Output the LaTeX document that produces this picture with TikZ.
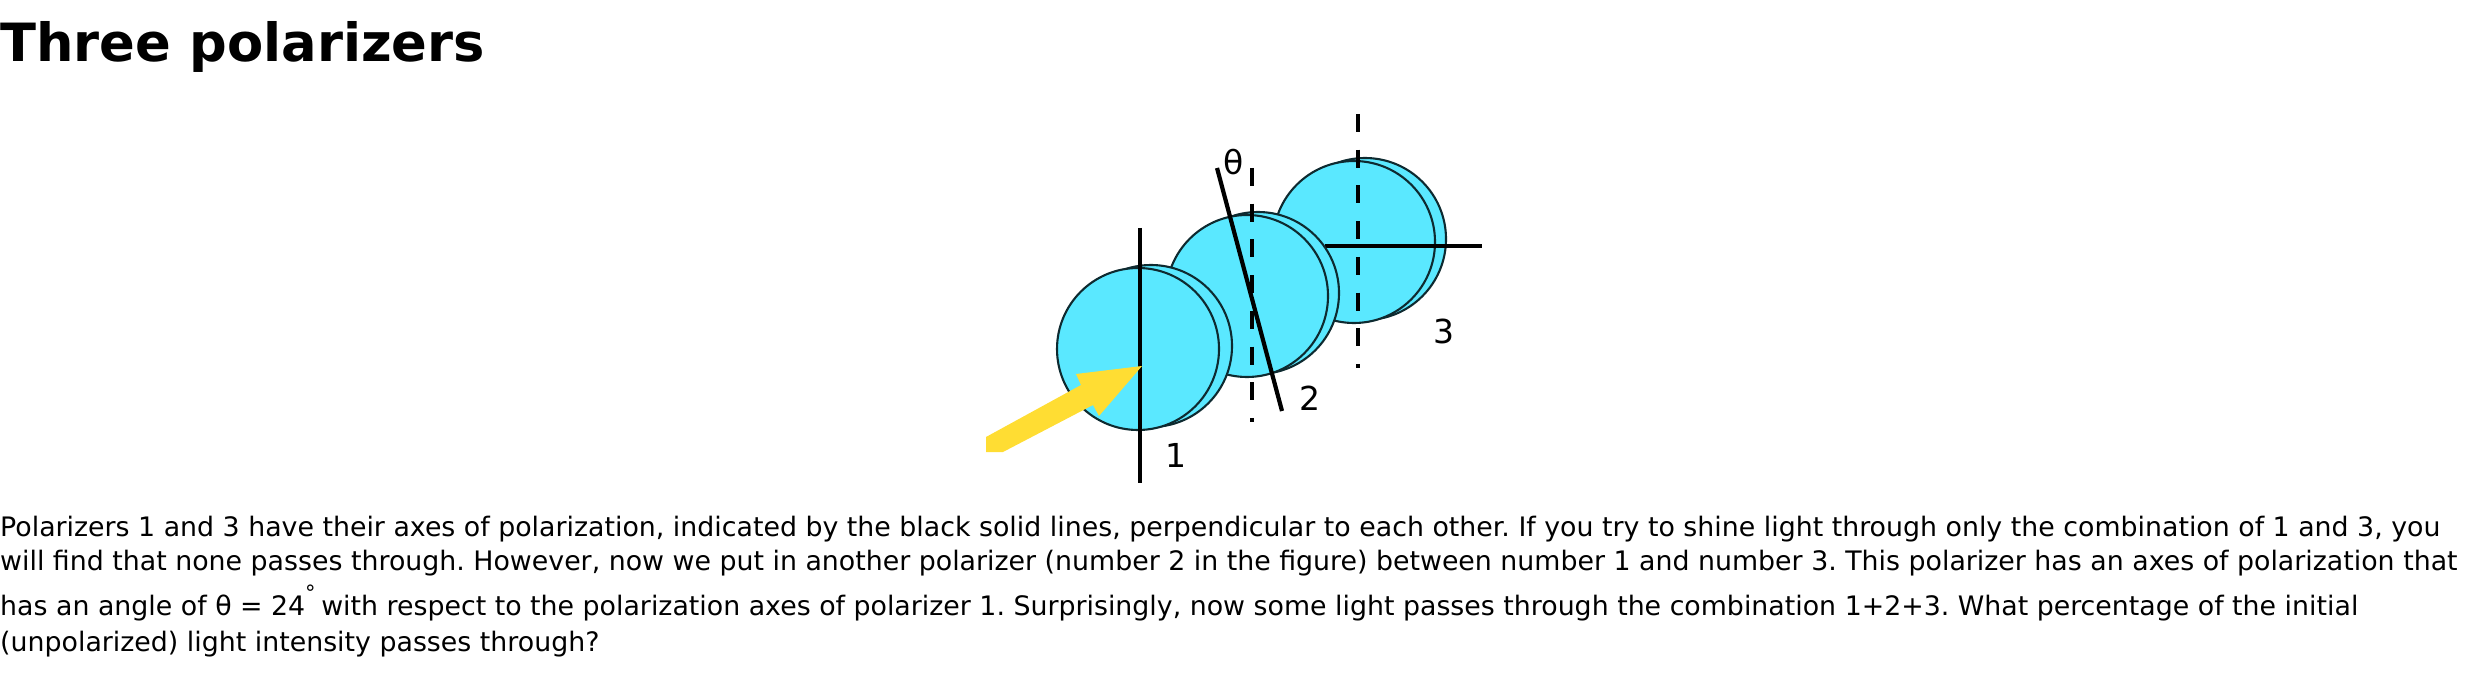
\documentclass[tikz,border=0pt]{standalone}
\usepackage{fontspec}
\setmainfont{DejaVu Sans}
\definecolor{discfill}{HTML}{5AE8FF}
\definecolor{discedge}{HTML}{0E2A30}
\definecolor{lightray}{HTML}{FFDD33}
\tikzset{
  disc/.style={circle,draw=discedge,fill=discfill,line width=2.1pt,inner sep=0pt,minimum size=162pt},
  axisline/.style={black,line width=3.6pt},
  dashaxis/.style={black,line width=3.6pt,dash pattern=on 18pt off 17.7pt},
  bodytext/.style={anchor=base west,inner sep=0pt,font=\fontsize{26.8pt}{30pt}\selectfont\frenchspacing},
  numlabel/.style={inner sep=0pt,font=\fontsize{33pt}{35pt}\selectfont}
}
\begin{document}
\begin{tikzpicture}[x=1pt,y=-1pt]
\useasboundingbox (0,0) rectangle (2472,676);
\node[anchor=base west,inner sep=0pt,font=\fontsize{52.7pt}{58pt}\selectfont\bfseries] (title) at (0,62) {Three polarizers};
% polarizer 3
\node[disc] (d3b) at (1365,239) {};
\node[disc] (d3f) at (1354,242) {};
\coordinate (h3a) at (1325,246); \coordinate (h3b) at (1482,246);
\draw[axisline] (h3a) -- (h3b);
\coordinate (v3a) at (1358,114); \coordinate (v3b) at (1358,368);
\draw[dashaxis] (v3a) -- (v3b);
% polarizer 2
\node[disc] (d2b) at (1258,293) {};
\node[disc] (d2f) at (1247,296) {};
\coordinate (v2a) at (1252,168); \coordinate (v2b) at (1252,422);
\draw[dashaxis] (v2a) -- (v2b);
\coordinate (t2a) at (1217,168); \coordinate (t2b) at (1282,411);
\draw[axisline,line width=4.2pt] (t2a) -- (t2b);
% polarizer 1
\node[disc] (d1b) at (1151,346) {};
\node[disc] (d1f) at (1138,349) {};
\coordinate (v1a) at (1140,228); \coordinate (v1b) at (1140,483);
\draw[axisline] (v1a) -- (v1b);
% light arrow
\fill[lightray] (986,437) -- (986,452) -- (1003,452) -- (1093,405) -- (1099,416) -- (1142,366) -- (1076,374) -- (1081,385) -- cycle;
% labels
\node[numlabel] (n1) at (1176,455) {1};
\node[numlabel] (n2) at (1310,398) {2};
\node[numlabel] (n3) at (1444,331) {3};
\node[numlabel] (th) at (1234,162) {θ};
% body text
\node[bodytext] (l1) at (0,536) {Polarizers 1 and 3 have their axes of polarization, indicated by the black solid lines, perpendicular to each other. If you try to shine light through only the combination of 1 and 3, you};
\node[bodytext] (l2) at (0,570) {will find that none passes through. However, now we put in another polarizer (number 2 in the figure) between number 1 and number 3. This polarizer has an axes of polarization that};
\node[bodytext] (l3) at (0,615) {has an angle of θ = 24\raisebox{0.55em}{\fontsize{21pt}{24pt}\selectfont °}\kern-3pt{} with respect to the polarization axes of polarizer 1. Surprisingly, now some light passes through the combination 1+2+3. What percentage of the initial};
\node[bodytext] (l4) at (0,651) {(unpolarized) light intensity passes through?};
\end{tikzpicture}
\end{document}
